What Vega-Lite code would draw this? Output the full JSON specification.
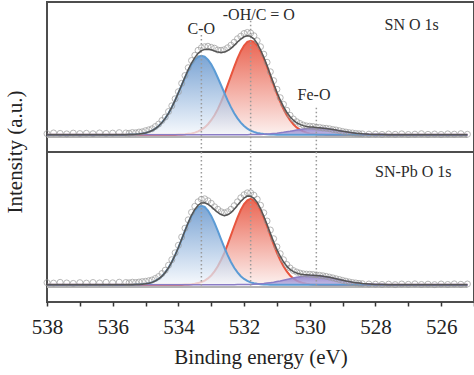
{
"$schema": "https://vega.github.io/schema/vega-lite/v6.json",
"padding": {"left": 4, "right": 1, "top": 1, "bottom": 4},
"spacing": 11,
"bounds": "flush",
"config": {
  "font": "Liberation Serif",
  "view": {"stroke": "#4d4d4d", "strokeWidth": 2},
  "axis": {"grid": false}
},
"data": {"values": [
{"s":"SN","E":538.0,"blue":1.15,"red":1.15,"pur":1.15,"fit":1.15,"obs":1.22},
{"s":"SN","E":537.8,"blue":1.15,"red":1.15,"pur":1.15,"fit":1.15,"obs":1.27},
{"s":"SN","E":537.6,"blue":1.15,"red":1.15,"pur":1.15,"fit":1.15,"obs":1.24},
{"s":"SN","E":537.4,"blue":1.15,"red":1.15,"pur":1.15,"fit":1.15,"obs":1.21},
{"s":"SN","E":537.2,"blue":1.15,"red":1.15,"pur":1.15,"fit":1.15,"obs":1.26},
{"s":"SN","E":537.0,"blue":1.15,"red":1.15,"pur":1.15,"fit":1.15,"obs":1.23},
{"s":"SN","E":536.8,"blue":1.15,"red":1.15,"pur":1.15,"fit":1.15,"obs":1.25},
{"s":"SN","E":536.6,"blue":1.15,"red":1.15,"pur":1.15,"fit":1.15,"obs":1.22},
{"s":"SN","E":536.4,"blue":1.15,"red":1.15,"pur":1.15,"fit":1.15,"obs":1.27},
{"s":"SN","E":536.2,"blue":1.15,"red":1.15,"pur":1.15,"fit":1.15,"obs":1.24},
{"s":"SN","E":536.0,"blue":1.15,"red":1.15,"pur":1.15,"fit":1.15,"obs":1.26},
{"s":"SN","E":535.8,"blue":1.15,"red":1.15,"pur":1.15,"fit":1.15,"obs":1.29},
{"s":"SN","E":535.6,"blue":1.15,"red":1.15,"pur":1.15,"fit":1.15,"obs":1.27},
{"s":"SN","E":535.5,"blue":1.16,"red":1.15,"pur":1.15,"fit":1.16,"obs":1.25},
{"s":"SN","E":535.4,"blue":1.17,"red":1.15,"pur":1.15,"fit":1.17,"obs":1.30},
{"s":"SN","E":535.3,"blue":1.18,"red":1.15,"pur":1.15,"fit":1.18,"obs":1.28},
{"s":"SN","E":535.2,"blue":1.20,"red":1.15,"pur":1.15,"fit":1.20,"obs":1.33},
{"s":"SN","E":535.1,"blue":1.23,"red":1.15,"pur":1.15,"fit":1.23,"obs":1.35},
{"s":"SN","E":535.0,"blue":1.27,"red":1.15,"pur":1.15,"fit":1.27,"obs":1.42},
{"s":"SN","E":534.9,"blue":1.34,"red":1.15,"pur":1.15,"fit":1.34,"obs":1.48},
{"s":"SN","E":534.8,"blue":1.43,"red":1.15,"pur":1.15,"fit":1.43,"obs":1.55},
{"s":"SN","E":534.7,"blue":1.56,"red":1.15,"pur":1.15,"fit":1.56,"obs":1.70},
{"s":"SN","E":534.6,"blue":1.73,"red":1.15,"pur":1.15,"fit":1.73,"obs":1.86},
{"s":"SN","E":534.5,"blue":1.96,"red":1.15,"pur":1.15,"fit":1.96,"obs":2.10},
{"s":"SN","E":534.4,"blue":2.24,"red":1.15,"pur":1.15,"fit":2.24,"obs":2.33},
{"s":"SN","E":534.3,"blue":2.58,"red":1.15,"pur":1.15,"fit":2.58,"obs":2.70},
{"s":"SN","E":534.2,"blue":2.99,"red":1.15,"pur":1.15,"fit":2.99,"obs":3.08},
{"s":"SN","E":534.1,"blue":3.44,"red":1.15,"pur":1.15,"fit":3.44,"obs":3.55},
{"s":"SN","E":534.0,"blue":3.94,"red":1.16,"pur":1.15,"fit":3.95,"obs":4.02},
{"s":"SN","E":533.9,"blue":4.45,"red":1.17,"pur":1.15,"fit":4.47,"obs":4.58},
{"s":"SN","E":533.8,"blue":4.95,"red":1.18,"pur":1.15,"fit":4.98,"obs":5.10},
{"s":"SN","E":533.7,"blue":5.43,"red":1.21,"pur":1.15,"fit":5.49,"obs":5.62},
{"s":"SN","E":533.6,"blue":5.84,"red":1.24,"pur":1.15,"fit":5.93,"obs":6.10},
{"s":"SN","E":533.5,"blue":6.15,"red":1.29,"pur":1.15,"fit":6.29,"obs":6.45},
{"s":"SN","E":533.4,"blue":6.35,"red":1.38,"pur":1.15,"fit":6.58,"obs":6.78},
{"s":"SN","E":533.3,"blue":6.42,"red":1.49,"pur":1.15,"fit":6.76,"obs":6.95},
{"s":"SN","E":533.2,"blue":6.35,"red":1.64,"pur":1.15,"fit":6.84,"obs":7.02},
{"s":"SN","E":533.1,"blue":6.15,"red":1.85,"pur":1.15,"fit":6.85,"obs":7.05},
{"s":"SN","E":533.0,"blue":5.84,"red":2.12,"pur":1.15,"fit":6.81,"obs":6.98},
{"s":"SN","E":532.9,"blue":5.43,"red":2.45,"pur":1.15,"fit":6.73,"obs":6.92},
{"s":"SN","E":532.8,"blue":4.95,"red":2.86,"pur":1.15,"fit":6.66,"obs":6.80},
{"s":"SN","E":532.7,"blue":4.45,"red":3.34,"pur":1.15,"fit":6.64,"obs":6.78},
{"s":"SN","E":532.6,"blue":3.94,"red":3.88,"pur":1.15,"fit":6.67,"obs":6.82},
{"s":"SN","E":532.5,"blue":3.44,"red":4.47,"pur":1.15,"fit":6.76,"obs":6.95},
{"s":"SN","E":532.4,"blue":2.99,"red":5.07,"pur":1.15,"fit":6.91,"obs":7.12},
{"s":"SN","E":532.3,"blue":2.58,"red":5.68,"pur":1.15,"fit":7.11,"obs":7.32},
{"s":"SN","E":532.2,"blue":2.24,"red":6.24,"pur":1.15,"fit":7.33,"obs":7.55},
{"s":"SN","E":532.1,"blue":1.96,"red":6.72,"pur":1.15,"fit":7.53,"obs":7.72},
{"s":"SN","E":532.0,"blue":1.73,"red":7.10,"pur":1.15,"fit":7.68,"obs":7.90},
{"s":"SN","E":531.9,"blue":1.56,"red":7.34,"pur":1.15,"fit":7.75,"obs":7.97},
{"s":"SN","E":531.8,"blue":1.43,"red":7.42,"pur":1.16,"fit":7.71,"obs":7.93},
{"s":"SN","E":531.7,"blue":1.34,"red":7.34,"pur":1.16,"fit":7.54,"obs":7.75},
{"s":"SN","E":531.6,"blue":1.27,"red":7.10,"pur":1.17,"fit":7.24,"obs":7.42},
{"s":"SN","E":531.5,"blue":1.23,"red":6.72,"pur":1.17,"fit":6.82,"obs":7.02},
{"s":"SN","E":531.4,"blue":1.20,"red":6.24,"pur":1.18,"fit":6.32,"obs":6.52},
{"s":"SN","E":531.3,"blue":1.18,"red":5.68,"pur":1.20,"fit":5.76,"obs":5.98},
{"s":"SN","E":531.2,"blue":1.17,"red":5.07,"pur":1.21,"fit":5.15,"obs":5.35},
{"s":"SN","E":531.1,"blue":1.16,"red":4.47,"pur":1.23,"fit":4.56,"obs":4.76},
{"s":"SN","E":531.0,"blue":1.15,"red":3.88,"pur":1.25,"fit":3.98,"obs":4.18},
{"s":"SN","E":530.9,"blue":1.15,"red":3.34,"pur":1.28,"fit":3.47,"obs":3.62},
{"s":"SN","E":530.8,"blue":1.15,"red":2.86,"pur":1.31,"fit":3.02,"obs":3.18},
{"s":"SN","E":530.7,"blue":1.15,"red":2.45,"pur":1.35,"fit":2.65,"obs":2.78},
{"s":"SN","E":530.6,"blue":1.15,"red":2.12,"pur":1.38,"fit":2.35,"obs":2.45},
{"s":"SN","E":530.5,"blue":1.15,"red":1.85,"pur":1.42,"fit":2.12,"obs":2.20},
{"s":"SN","E":530.4,"blue":1.15,"red":1.64,"pur":1.46,"fit":1.95,"obs":2.02},
{"s":"SN","E":530.3,"blue":1.15,"red":1.49,"pur":1.50,"fit":1.84,"obs":1.90},
{"s":"SN","E":530.2,"blue":1.15,"red":1.38,"pur":1.53,"fit":1.76,"obs":1.80},
{"s":"SN","E":530.1,"blue":1.15,"red":1.29,"pur":1.56,"fit":1.70,"obs":1.74},
{"s":"SN","E":530.0,"blue":1.15,"red":1.24,"pur":1.58,"fit":1.67,"obs":1.72},
{"s":"SN","E":529.9,"blue":1.15,"red":1.21,"pur":1.60,"fit":1.66,"obs":1.70},
{"s":"SN","E":529.8,"blue":1.15,"red":1.18,"pur":1.60,"fit":1.63,"obs":1.66},
{"s":"SN","E":529.7,"blue":1.15,"red":1.17,"pur":1.60,"fit":1.62,"obs":1.64},
{"s":"SN","E":529.6,"blue":1.15,"red":1.16,"pur":1.58,"fit":1.59,"obs":1.60},
{"s":"SN","E":529.5,"blue":1.15,"red":1.15,"pur":1.56,"fit":1.56,"obs":1.58},
{"s":"SN","E":529.4,"blue":1.15,"red":1.15,"pur":1.53,"fit":1.53,"obs":1.55},
{"s":"SN","E":529.3,"blue":1.15,"red":1.15,"pur":1.50,"fit":1.50,"obs":1.50},
{"s":"SN","E":529.2,"blue":1.15,"red":1.15,"pur":1.46,"fit":1.46,"obs":1.47},
{"s":"SN","E":529.1,"blue":1.15,"red":1.15,"pur":1.42,"fit":1.42,"obs":1.42},
{"s":"SN","E":529.0,"blue":1.15,"red":1.15,"pur":1.38,"fit":1.38,"obs":1.37},
{"s":"SN","E":528.9,"blue":1.15,"red":1.15,"pur":1.35,"fit":1.35,"obs":1.33},
{"s":"SN","E":528.8,"blue":1.15,"red":1.15,"pur":1.31,"fit":1.31,"obs":1.29},
{"s":"SN","E":528.7,"blue":1.15,"red":1.15,"pur":1.28,"fit":1.28,"obs":1.27},
{"s":"SN","E":528.6,"blue":1.15,"red":1.15,"pur":1.25,"fit":1.25,"obs":1.24},
{"s":"SN","E":528.5,"blue":1.15,"red":1.15,"pur":1.23,"fit":1.23,"obs":1.22},
{"s":"SN","E":528.4,"blue":1.15,"red":1.15,"pur":1.21,"fit":1.21,"obs":1.21},
{"s":"SN","E":528.2,"blue":1.15,"red":1.15,"pur":1.18,"fit":1.18,"obs":1.19},
{"s":"SN","E":528.0,"blue":1.15,"red":1.15,"pur":1.17,"fit":1.17,"obs":1.20},
{"s":"SN","E":527.8,"blue":1.15,"red":1.15,"pur":1.16,"fit":1.16,"obs":1.17},
{"s":"SN","E":527.6,"blue":1.15,"red":1.15,"pur":1.15,"fit":1.15,"obs":1.20},
{"s":"SN","E":527.4,"blue":1.15,"red":1.15,"pur":1.15,"fit":1.15,"obs":1.18},
{"s":"SN","E":527.2,"blue":1.15,"red":1.15,"pur":1.15,"fit":1.15,"obs":1.21},
{"s":"SN","E":527.0,"blue":1.15,"red":1.15,"pur":1.15,"fit":1.15,"obs":1.17},
{"s":"SN","E":526.8,"blue":1.15,"red":1.15,"pur":1.15,"fit":1.15,"obs":1.19},
{"s":"SN","E":526.6,"blue":1.15,"red":1.15,"pur":1.15,"fit":1.15,"obs":1.22},
{"s":"SN","E":526.4,"blue":1.15,"red":1.15,"pur":1.15,"fit":1.15,"obs":1.18},
{"s":"SN","E":526.2,"blue":1.15,"red":1.15,"pur":1.15,"fit":1.15,"obs":1.20},
{"s":"SN","E":526.0,"blue":1.15,"red":1.15,"pur":1.15,"fit":1.15,"obs":1.17},
{"s":"SN","E":525.8,"blue":1.15,"red":1.15,"pur":1.15,"fit":1.15,"obs":1.21},
{"s":"SN","E":525.6,"blue":1.15,"red":1.15,"pur":1.15,"fit":1.15,"obs":1.19},
{"s":"SN","E":525.4,"blue":1.15,"red":1.15,"pur":1.15,"fit":1.15,"obs":1.22},
{"s":"SN","E":525.2,"blue":1.15,"red":1.15,"pur":1.15,"fit":1.15,"obs":1.18},
{"s":"SN-Pb","E":538.0,"blue":1.15,"red":1.15,"pur":1.15,"fit":1.15,"obs":1.29},
{"s":"SN-Pb","E":537.8,"blue":1.15,"red":1.15,"pur":1.15,"fit":1.15,"obs":1.26},
{"s":"SN-Pb","E":537.6,"blue":1.15,"red":1.15,"pur":1.15,"fit":1.15,"obs":1.31},
{"s":"SN-Pb","E":537.4,"blue":1.15,"red":1.15,"pur":1.15,"fit":1.15,"obs":1.27},
{"s":"SN-Pb","E":537.2,"blue":1.15,"red":1.15,"pur":1.15,"fit":1.15,"obs":1.24},
{"s":"SN-Pb","E":537.0,"blue":1.15,"red":1.15,"pur":1.15,"fit":1.15,"obs":1.29},
{"s":"SN-Pb","E":536.8,"blue":1.15,"red":1.15,"pur":1.15,"fit":1.15,"obs":1.26},
{"s":"SN-Pb","E":536.6,"blue":1.15,"red":1.15,"pur":1.15,"fit":1.15,"obs":1.30},
{"s":"SN-Pb","E":536.4,"blue":1.15,"red":1.15,"pur":1.15,"fit":1.15,"obs":1.27},
{"s":"SN-Pb","E":536.2,"blue":1.15,"red":1.15,"pur":1.15,"fit":1.15,"obs":1.31},
{"s":"SN-Pb","E":536.0,"blue":1.15,"red":1.15,"pur":1.15,"fit":1.15,"obs":1.28},
{"s":"SN-Pb","E":535.8,"blue":1.15,"red":1.15,"pur":1.15,"fit":1.15,"obs":1.32},
{"s":"SN-Pb","E":535.6,"blue":1.15,"red":1.15,"pur":1.15,"fit":1.15,"obs":1.30},
{"s":"SN-Pb","E":535.5,"blue":1.15,"red":1.15,"pur":1.15,"fit":1.15,"obs":1.28},
{"s":"SN-Pb","E":535.4,"blue":1.15,"red":1.15,"pur":1.15,"fit":1.15,"obs":1.32},
{"s":"SN-Pb","E":535.3,"blue":1.16,"red":1.15,"pur":1.15,"fit":1.16,"obs":1.30},
{"s":"SN-Pb","E":535.2,"blue":1.17,"red":1.15,"pur":1.15,"fit":1.17,"obs":1.33},
{"s":"SN-Pb","E":535.1,"blue":1.19,"red":1.15,"pur":1.15,"fit":1.19,"obs":1.36},
{"s":"SN-Pb","E":535.0,"blue":1.21,"red":1.15,"pur":1.15,"fit":1.21,"obs":1.38},
{"s":"SN-Pb","E":534.9,"blue":1.25,"red":1.15,"pur":1.15,"fit":1.25,"obs":1.42},
{"s":"SN-Pb","E":534.8,"blue":1.31,"red":1.15,"pur":1.15,"fit":1.31,"obs":1.47},
{"s":"SN-Pb","E":534.7,"blue":1.41,"red":1.15,"pur":1.15,"fit":1.41,"obs":1.57},
{"s":"SN-Pb","E":534.6,"blue":1.54,"red":1.15,"pur":1.15,"fit":1.54,"obs":1.70},
{"s":"SN-Pb","E":534.5,"blue":1.72,"red":1.15,"pur":1.15,"fit":1.72,"obs":1.90},
{"s":"SN-Pb","E":534.4,"blue":1.97,"red":1.15,"pur":1.15,"fit":1.97,"obs":2.12},
{"s":"SN-Pb","E":534.3,"blue":2.28,"red":1.15,"pur":1.15,"fit":2.28,"obs":2.45},
{"s":"SN-Pb","E":534.2,"blue":2.67,"red":1.15,"pur":1.15,"fit":2.67,"obs":2.82},
{"s":"SN-Pb","E":534.1,"blue":3.12,"red":1.15,"pur":1.15,"fit":3.12,"obs":3.28},
{"s":"SN-Pb","E":534.0,"blue":3.63,"red":1.15,"pur":1.15,"fit":3.63,"obs":3.78},
{"s":"SN-Pb","E":533.9,"blue":4.18,"red":1.15,"pur":1.15,"fit":4.18,"obs":4.33},
{"s":"SN-Pb","E":533.8,"blue":4.74,"red":1.16,"pur":1.15,"fit":4.75,"obs":4.92},
{"s":"SN-Pb","E":533.7,"blue":5.27,"red":1.17,"pur":1.15,"fit":5.29,"obs":5.48},
{"s":"SN-Pb","E":533.6,"blue":5.74,"red":1.19,"pur":1.15,"fit":5.78,"obs":5.98},
{"s":"SN-Pb","E":533.5,"blue":6.10,"red":1.22,"pur":1.15,"fit":6.17,"obs":6.38},
{"s":"SN-Pb","E":533.4,"blue":6.34,"red":1.26,"pur":1.15,"fit":6.45,"obs":6.68},
{"s":"SN-Pb","E":533.3,"blue":6.42,"red":1.33,"pur":1.15,"fit":6.60,"obs":6.85},
{"s":"SN-Pb","E":533.2,"blue":6.34,"red":1.43,"pur":1.15,"fit":6.62,"obs":6.88},
{"s":"SN-Pb","E":533.1,"blue":6.10,"red":1.57,"pur":1.15,"fit":6.52,"obs":6.75},
{"s":"SN-Pb","E":533.0,"blue":5.74,"red":1.77,"pur":1.15,"fit":6.36,"obs":6.58},
{"s":"SN-Pb","E":532.9,"blue":5.27,"red":2.04,"pur":1.15,"fit":6.16,"obs":6.35},
{"s":"SN-Pb","E":532.8,"blue":4.74,"red":2.38,"pur":1.15,"fit":5.97,"obs":6.18},
{"s":"SN-Pb","E":532.7,"blue":4.18,"red":2.80,"pur":1.15,"fit":5.83,"obs":6.02},
{"s":"SN-Pb","E":532.6,"blue":3.63,"red":3.28,"pur":1.15,"fit":5.76,"obs":5.95},
{"s":"SN-Pb","E":532.5,"blue":3.12,"red":3.84,"pur":1.15,"fit":5.81,"obs":6.02},
{"s":"SN-Pb","E":532.4,"blue":2.67,"red":4.44,"pur":1.15,"fit":5.96,"obs":6.18},
{"s":"SN-Pb","E":532.3,"blue":2.28,"red":5.05,"pur":1.15,"fit":6.18,"obs":6.42},
{"s":"SN-Pb","E":532.2,"blue":1.97,"red":5.62,"pur":1.16,"fit":6.45,"obs":6.68},
{"s":"SN-Pb","E":532.1,"blue":1.72,"red":6.13,"pur":1.16,"fit":6.71,"obs":6.95},
{"s":"SN-Pb","E":532.0,"blue":1.54,"red":6.53,"pur":1.16,"fit":6.93,"obs":7.15},
{"s":"SN-Pb","E":531.9,"blue":1.41,"red":6.78,"pur":1.17,"fit":7.06,"obs":7.28},
{"s":"SN-Pb","E":531.8,"blue":1.31,"red":6.87,"pur":1.17,"fit":7.05,"obs":7.28},
{"s":"SN-Pb","E":531.7,"blue":1.25,"red":6.78,"pur":1.18,"fit":6.91,"obs":7.12},
{"s":"SN-Pb","E":531.6,"blue":1.21,"red":6.53,"pur":1.20,"fit":6.64,"obs":6.85},
{"s":"SN-Pb","E":531.5,"blue":1.19,"red":6.13,"pur":1.21,"fit":6.23,"obs":6.45},
{"s":"SN-Pb","E":531.4,"blue":1.17,"red":5.62,"pur":1.23,"fit":5.72,"obs":5.95},
{"s":"SN-Pb","E":531.3,"blue":1.16,"red":5.05,"pur":1.26,"fit":5.17,"obs":5.40},
{"s":"SN-Pb","E":531.2,"blue":1.15,"red":4.44,"pur":1.29,"fit":4.58,"obs":4.80},
{"s":"SN-Pb","E":531.1,"blue":1.15,"red":3.84,"pur":1.32,"fit":4.01,"obs":4.22},
{"s":"SN-Pb","E":531.0,"blue":1.15,"red":3.28,"pur":1.36,"fit":3.49,"obs":3.68},
{"s":"SN-Pb","E":530.9,"blue":1.15,"red":2.80,"pur":1.40,"fit":3.05,"obs":3.22},
{"s":"SN-Pb","E":530.8,"blue":1.15,"red":2.38,"pur":1.45,"fit":2.68,"obs":2.82},
{"s":"SN-Pb","E":530.7,"blue":1.15,"red":2.04,"pur":1.50,"fit":2.39,"obs":2.50},
{"s":"SN-Pb","E":530.6,"blue":1.15,"red":1.77,"pur":1.55,"fit":2.17,"obs":2.27},
{"s":"SN-Pb","E":530.5,"blue":1.15,"red":1.57,"pur":1.60,"fit":2.02,"obs":2.10},
{"s":"SN-Pb","E":530.4,"blue":1.15,"red":1.43,"pur":1.65,"fit":1.93,"obs":2.00},
{"s":"SN-Pb","E":530.3,"blue":1.15,"red":1.33,"pur":1.69,"fit":1.87,"obs":1.93},
{"s":"SN-Pb","E":530.2,"blue":1.15,"red":1.26,"pur":1.72,"fit":1.83,"obs":1.88},
{"s":"SN-Pb","E":530.1,"blue":1.15,"red":1.22,"pur":1.75,"fit":1.82,"obs":1.86},
{"s":"SN-Pb","E":530.0,"blue":1.15,"red":1.19,"pur":1.76,"fit":1.80,"obs":1.85},
{"s":"SN-Pb","E":529.9,"blue":1.15,"red":1.17,"pur":1.77,"fit":1.79,"obs":1.83},
{"s":"SN-Pb","E":529.8,"blue":1.15,"red":1.16,"pur":1.76,"fit":1.77,"obs":1.81},
{"s":"SN-Pb","E":529.7,"blue":1.15,"red":1.15,"pur":1.75,"fit":1.75,"obs":1.78},
{"s":"SN-Pb","E":529.6,"blue":1.15,"red":1.15,"pur":1.72,"fit":1.72,"obs":1.75},
{"s":"SN-Pb","E":529.5,"blue":1.15,"red":1.15,"pur":1.69,"fit":1.69,"obs":1.71},
{"s":"SN-Pb","E":529.4,"blue":1.15,"red":1.15,"pur":1.65,"fit":1.65,"obs":1.66},
{"s":"SN-Pb","E":529.3,"blue":1.15,"red":1.15,"pur":1.60,"fit":1.60,"obs":1.61},
{"s":"SN-Pb","E":529.2,"blue":1.15,"red":1.15,"pur":1.55,"fit":1.55,"obs":1.55},
{"s":"SN-Pb","E":529.1,"blue":1.15,"red":1.15,"pur":1.50,"fit":1.50,"obs":1.50},
{"s":"SN-Pb","E":529.0,"blue":1.15,"red":1.15,"pur":1.45,"fit":1.45,"obs":1.44},
{"s":"SN-Pb","E":528.9,"blue":1.15,"red":1.15,"pur":1.40,"fit":1.40,"obs":1.39},
{"s":"SN-Pb","E":528.8,"blue":1.15,"red":1.15,"pur":1.36,"fit":1.36,"obs":1.34},
{"s":"SN-Pb","E":528.7,"blue":1.15,"red":1.15,"pur":1.32,"fit":1.32,"obs":1.30},
{"s":"SN-Pb","E":528.6,"blue":1.15,"red":1.15,"pur":1.29,"fit":1.29,"obs":1.27},
{"s":"SN-Pb","E":528.5,"blue":1.15,"red":1.15,"pur":1.26,"fit":1.26,"obs":1.24},
{"s":"SN-Pb","E":528.4,"blue":1.15,"red":1.15,"pur":1.23,"fit":1.23,"obs":1.22},
{"s":"SN-Pb","E":528.2,"blue":1.15,"red":1.15,"pur":1.20,"fit":1.20,"obs":1.20},
{"s":"SN-Pb","E":528.0,"blue":1.15,"red":1.15,"pur":1.17,"fit":1.17,"obs":1.19},
{"s":"SN-Pb","E":527.8,"blue":1.15,"red":1.15,"pur":1.16,"fit":1.16,"obs":1.17},
{"s":"SN-Pb","E":527.6,"blue":1.15,"red":1.15,"pur":1.15,"fit":1.15,"obs":1.19},
{"s":"SN-Pb","E":527.4,"blue":1.15,"red":1.15,"pur":1.15,"fit":1.15,"obs":1.16},
{"s":"SN-Pb","E":527.2,"blue":1.15,"red":1.15,"pur":1.15,"fit":1.15,"obs":1.20},
{"s":"SN-Pb","E":527.0,"blue":1.15,"red":1.15,"pur":1.15,"fit":1.15,"obs":1.18},
{"s":"SN-Pb","E":526.8,"blue":1.15,"red":1.15,"pur":1.15,"fit":1.15,"obs":1.21},
{"s":"SN-Pb","E":526.6,"blue":1.15,"red":1.15,"pur":1.15,"fit":1.15,"obs":1.17},
{"s":"SN-Pb","E":526.4,"blue":1.15,"red":1.15,"pur":1.15,"fit":1.15,"obs":1.19},
{"s":"SN-Pb","E":526.2,"blue":1.15,"red":1.15,"pur":1.15,"fit":1.15,"obs":1.16},
{"s":"SN-Pb","E":526.0,"blue":1.15,"red":1.15,"pur":1.15,"fit":1.15,"obs":1.20},
{"s":"SN-Pb","E":525.8,"blue":1.15,"red":1.15,"pur":1.15,"fit":1.15,"obs":1.17},
{"s":"SN-Pb","E":525.6,"blue":1.15,"red":1.15,"pur":1.15,"fit":1.15,"obs":1.21},
{"s":"SN-Pb","E":525.4,"blue":1.15,"red":1.15,"pur":1.15,"fit":1.15,"obs":1.18},
{"s":"SN-Pb","E":525.2,"blue":1.15,"red":1.15,"pur":1.15,"fit":1.15,"obs":1.20}
]},
"hconcat": [
{
 "width": 30, "height": 300,
 "view": {"stroke": null},
 "data": {"values": [{"label": "Intensity (a.u.)"}]},
 "mark": {"type": "text", "fontSize": 21, "color": "#222222", "baseline": "middle", "align": "center", "angle": 270},
 "encoding": {
   "x": {"datum": 0.33, "type": "quantitative", "scale": {"domain": [0, 1]}, "axis": null},
   "y": {"datum": 0.5, "type": "quantitative", "scale": {"domain": [0, 1]}, "axis": null},
   "text": {"field": "label"}
 }
},
{
"spacing": 0,
"bounds": "flush",
"vconcat": [
{
 "width": 427, "height": 150,
 "transform": [{"filter": "datum.s === 'SN'"}],
 "encoding": {"x": {"field": "E", "type": "quantitative", "scale": {"domain": [538, 525], "nice": false, "zero": false}, "axis": null}},
 "layer": [
  {"mark": {"type": "area", "opacity": 0.9, "color": {"gradient": "linear", "x1": 0, "y1": 0, "x2": 0, "y2": 1, "stops": [{"offset": 0, "color": "#e8543f"}, {"offset": 1, "color": "#fcefed"}]}},
   "encoding": {"y": {"field": "red", "type": "quantitative", "scale": {"domain": [0, 10]}, "axis": null}, "y2": {"datum": 1.15}}},
  {"mark": {"type": "line", "color": "#e8553e", "strokeWidth": 2}, "encoding": {"y": {"field": "red", "type": "quantitative", "scale": {"domain": [0, 10]}, "axis": null}}},
  {"mark": {"type": "area", "opacity": 0.75, "color": {"gradient": "linear", "x1": 0, "y1": 0, "x2": 0, "y2": 1, "stops": [{"offset": 0, "color": "#4f86c6"}, {"offset": 1, "color": "#f3f7fc"}]}},
   "encoding": {"y": {"field": "blue", "type": "quantitative", "scale": {"domain": [0, 10]}, "axis": null}, "y2": {"datum": 1.15}}},
  {"mark": {"type": "area", "opacity": 0.85, "color": {"gradient": "linear", "x1": 0, "y1": 0, "x2": 0, "y2": 1, "stops": [{"offset": 0, "color": "#8675c8"}, {"offset": 1, "color": "#b9b0e0"}]}},
   "encoding": {"y": {"field": "pur", "type": "quantitative", "scale": {"domain": [0, 10]}, "axis": null}, "y2": {"datum": 1.15}}},
  {"mark": {"type": "line", "color": "#b4b4b4", "strokeWidth": 2}, "encoding": {"y": {"datum": 1.0, "type": "quantitative", "scale": {"domain": [0, 10]}, "axis": null}}},
  {"mark": {"type": "line", "color": "#5b9bd5", "strokeWidth": 2}, "encoding": {"y": {"field": "blue", "type": "quantitative", "scale": {"domain": [0, 10]}, "axis": null}}},
  {"mark": {"type": "line", "color": "#8a7cc6", "strokeWidth": 1.5}, "encoding": {"y": {"field": "pur", "type": "quantitative", "scale": {"domain": [0, 10]}, "axis": null}}},
  {"data": {"values": [{"E": 533.3, "top": 7.8, "bot": 0}, {"E": 531.8, "top": 8.75, "bot": 0}, {"E": 529.8, "top": 2.95, "bot": 0}]},
   "mark": {"type": "rule", "color": "#9a9a9a", "strokeWidth": 1.5, "strokeDash": [1.5, 2.5]},
   "encoding": {"y": {"field": "top", "type": "quantitative", "scale": {"domain": [0, 10]}, "axis": null}, "y2": {"field": "bot"}}},
  {"mark": {"type": "point", "shape": "circle", "filled": false, "size": 36, "color": "#999999", "strokeWidth": 1}, "encoding": {"y": {"field": "obs", "type": "quantitative", "scale": {"domain": [0, 10]}, "axis": null}}},
  {"mark": {"type": "line", "color": "#555555", "strokeWidth": 1.5}, "encoding": {"y": {"field": "fit", "type": "quantitative", "scale": {"domain": [0, 10]}, "axis": null}}},
  {"data": {"values": [{"E": 533.3, "y": 8.2, "label": "C-O"}, {"E": 531.55, "y": 9.13, "label": "-OH/C = O"}, {"E": 529.87, "y": 3.8, "label": "Fe-O"}, {"E": 526.9, "y": 8.47, "label": "SN O 1s"}]},
   "mark": {"type": "text", "fontSize": 16, "color": "#2a2a2a", "baseline": "middle", "align": "center"},
   "encoding": {"y": {"field": "y", "type": "quantitative", "scale": {"domain": [0, 10]}, "axis": null}, "text": {"field": "label"}}}
 ]
},
{
 "width": 427, "height": 150,
 "transform": [{"filter": "datum.s === 'SN-Pb'"}],
 "encoding": {"x": {"field": "E", "type": "quantitative", "scale": {"domain": [538, 525], "nice": false, "zero": false},
   "axis": {"title": "Binding energy (eV)", "values": [538, 537, 536, 535, 534, 533, 532, 531, 530, 529, 528, 527, 526, 525], "labelExpr": "datum.value % 2 === 0 ? datum.label : ''", "format": "d", "domain": false, "tickSize": 4, "tickWidth": 1.5, "tickColor": "#333", "labelFontSize": 21, "labelPadding": 10, "labelColor": "#222", "titleFontSize": 21, "titleFontWeight": "normal", "titlePadding": 9, "titleColor": "#222", "labelFlush": false}}},
 "layer": [
  {"mark": {"type": "area", "opacity": 0.9, "color": {"gradient": "linear", "x1": 0, "y1": 0, "x2": 0, "y2": 1, "stops": [{"offset": 0, "color": "#e8543f"}, {"offset": 1, "color": "#fcefed"}]}},
   "encoding": {"y": {"field": "red", "type": "quantitative", "scale": {"domain": [0, 10]}, "axis": null}, "y2": {"datum": 1.15}}},
  {"mark": {"type": "line", "color": "#e8553e", "strokeWidth": 2}, "encoding": {"y": {"field": "red", "type": "quantitative", "scale": {"domain": [0, 10]}, "axis": null}}},
  {"mark": {"type": "area", "opacity": 0.75, "color": {"gradient": "linear", "x1": 0, "y1": 0, "x2": 0, "y2": 1, "stops": [{"offset": 0, "color": "#4f86c6"}, {"offset": 1, "color": "#f3f7fc"}]}},
   "encoding": {"y": {"field": "blue", "type": "quantitative", "scale": {"domain": [0, 10]}, "axis": null}, "y2": {"datum": 1.15}}},
  {"mark": {"type": "area", "opacity": 0.85, "color": {"gradient": "linear", "x1": 0, "y1": 0, "x2": 0, "y2": 1, "stops": [{"offset": 0, "color": "#8675c8"}, {"offset": 1, "color": "#b9b0e0"}]}},
   "encoding": {"y": {"field": "pur", "type": "quantitative", "scale": {"domain": [0, 10]}, "axis": null}, "y2": {"datum": 1.15}}},
  {"mark": {"type": "line", "color": "#b4b4b4", "strokeWidth": 2}, "encoding": {"y": {"datum": 1.0, "type": "quantitative", "scale": {"domain": [0, 10]}, "axis": null}}},
  {"mark": {"type": "line", "color": "#5b9bd5", "strokeWidth": 2}, "encoding": {"y": {"field": "blue", "type": "quantitative", "scale": {"domain": [0, 10]}, "axis": null}}},
  {"mark": {"type": "line", "color": "#8a7cc6", "strokeWidth": 1.5}, "encoding": {"y": {"field": "pur", "type": "quantitative", "scale": {"domain": [0, 10]}, "axis": null}}},
  {"data": {"values": [{"E": 533.3, "top": 10, "bot": 1.0}, {"E": 531.8, "top": 10, "bot": 1.0}, {"E": 529.8, "top": 10, "bot": 1.0}]},
   "mark": {"type": "rule", "color": "#9a9a9a", "strokeWidth": 1.5, "strokeDash": [1.5, 2.5]},
   "encoding": {"y": {"field": "top", "type": "quantitative", "scale": {"domain": [0, 10]}, "axis": null}, "y2": {"field": "bot"}}},
  {"mark": {"type": "point", "shape": "circle", "filled": false, "size": 36, "color": "#999999", "strokeWidth": 1}, "encoding": {"y": {"field": "obs", "type": "quantitative", "scale": {"domain": [0, 10]}, "axis": null}}},
  {"mark": {"type": "line", "color": "#555555", "strokeWidth": 1.5}, "encoding": {"y": {"field": "fit", "type": "quantitative", "scale": {"domain": [0, 10]}, "axis": null}}},
  {"data": {"values": [{"E": 526.85, "y": 8.67, "label": "SN-Pb O 1s"}]},
   "mark": {"type": "text", "fontSize": 16, "color": "#2a2a2a", "baseline": "middle", "align": "center"},
   "encoding": {"y": {"field": "y", "type": "quantitative", "scale": {"domain": [0, 10]}, "axis": null}, "text": {"field": "label"}}}
 ]
}
]
}
]
}
